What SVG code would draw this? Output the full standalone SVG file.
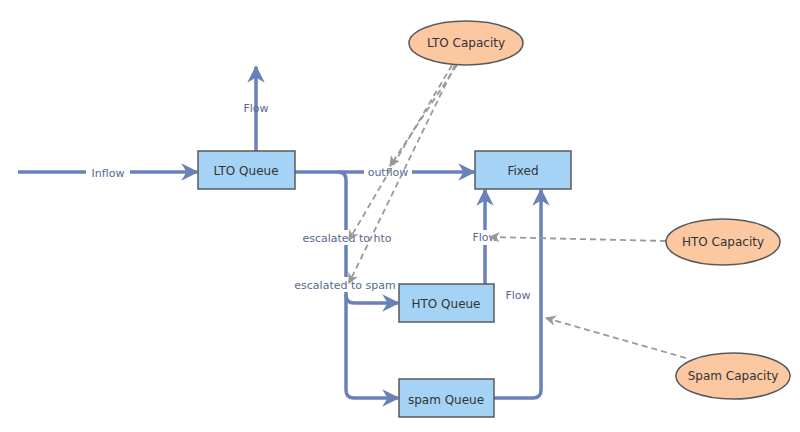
<svg xmlns="http://www.w3.org/2000/svg" width="800" height="432" viewBox="0 0 800 432">
<style>
.box{fill:#a5d3f6;stroke:#5a5a5a;stroke-width:1.5}
.cap{fill:#fbc8a2;stroke:#5a5a5a;stroke-width:1.5}
.t{font-family:"DejaVu Sans",sans-serif;font-size:12px;fill:#333;text-anchor:middle;dominant-baseline:central}
.lbl{font-family:"DejaVu Sans",sans-serif;font-size:11px;fill:#5a6890;text-anchor:middle;dominant-baseline:central}
.f{fill:none;stroke:#6a80b8;stroke-width:3.5;stroke-linejoin:round}
.d{fill:none;stroke:#999;stroke-width:1.8;stroke-dasharray:6 4}
.bg{fill:#fff}
</style>
<defs>
<marker id="a" viewBox="0 0 10 10" refX="9" refY="5" markerWidth="5" markerHeight="5" orient="auto" markerUnits="strokeWidth"><path d="M0,0L10,5L0,10L3,5z" fill="#6a80b8"/></marker>
<marker id="g" viewBox="0 0 10 10" refX="9" refY="5" markerWidth="6" markerHeight="6" orient="auto" markerUnits="strokeWidth"><path d="M0,0L10,5L0,10L3,5z" fill="#999"/></marker>
</defs>
<rect width="800" height="432" fill="#fff"/>
<g id="connectors">
<path class="f" d="M18,172H197" marker-end="url(#a)"/>
<path class="f" d="M256,151V67" marker-end="url(#a)"/>
<path class="f" d="M295,172H474" marker-end="url(#a)"/>
<path class="f" d="M338,172Q346,172 346,180V295Q346,303 354,303H398" marker-end="url(#a)"/>
<path class="f" d="M346,295V390Q346,398 354,398H398" marker-end="url(#a)"/>
<path class="f" d="M485,284V190" marker-end="url(#a)"/>
<path class="f" d="M494,398H533Q541,398 541,390V190" marker-end="url(#a)"/>
<rect class="bg" x="86" y="165" width="44" height="15"/><text class="lbl" x="108" y="173">Inflow</text>
<text class="lbl" x="256" y="108">Flow</text>
<rect class="bg" x="364" y="165" width="48" height="15"/><text class="lbl" x="388" y="172">outflow</text>
<rect class="bg" x="296" y="230" width="102" height="15"/><text class="lbl" x="347" y="238">escalated to hto</text>
<rect class="bg" x="291" y="277" width="108" height="15"/><text class="lbl" x="345" y="285">escalated to spam</text>
<rect class="bg" x="470" y="230" width="30" height="15"/><text class="lbl" x="485" y="237">Flow</text>
<text class="lbl" x="518" y="295">Flow</text>
<path class="d" d="M457,65L390,166" marker-end="url(#g)"/>
<path class="d" d="M452,65L349,240" marker-end="url(#g)"/>
<path class="d" d="M455,65L349,283" marker-end="url(#g)"/>
<path class="d" d="M666,241L490,237" marker-end="url(#g)"/>
<path class="d" d="M686,358L546,318" marker-end="url(#g)"/>
</g>
<g id="lto"><rect class="box" x="198" y="151" width="97" height="38"/><text class="t" x="246" y="171">LTO Queue</text></g>
<g id="fixed"><rect class="box" x="475" y="151" width="96" height="38"/><text class="t" x="523" y="171">Fixed</text></g>
<g id="hto"><rect class="box" x="399" y="284" width="95" height="38"/><text class="t" x="446" y="304">HTO Queue</text></g>
<g id="spam"><rect class="box" x="399" y="379" width="95" height="38"/><text class="t" x="446" y="400">spam Queue</text></g>
<g id="ltocap"><ellipse class="cap" cx="466" cy="43" rx="57" ry="22"/><text class="t" x="466" y="43">LTO Capacity</text></g>
<g id="htocap"><ellipse class="cap" cx="723" cy="242" rx="57" ry="23"/><text class="t" x="723" y="242">HTO Capacity</text></g>
<g id="spamcap"><ellipse class="cap" cx="733" cy="376" rx="57" ry="23"/><text class="t" x="733" y="376">Spam Capacity</text></g>
</svg>
